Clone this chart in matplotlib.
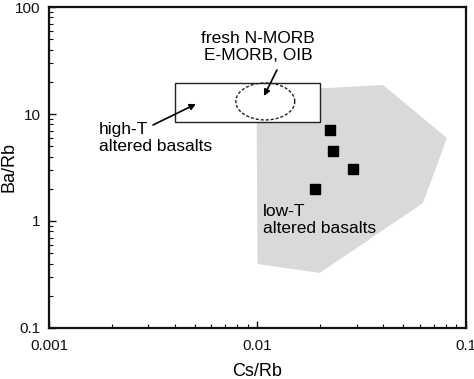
import numpy as np
import matplotlib
matplotlib.use("Agg")
import matplotlib.pyplot as plt
from matplotlib.patches import Polygon, Rectangle
from matplotlib.ticker import LogLocator, NullFormatter, FixedLocator, FixedFormatter

plt.rcParams['font.family'] = ['Liberation Sans', 'DejaVu Sans']

# Data
sample_cs_rb = [0.0223, 0.0230, 0.0287, 0.0189]
sample_ba_rb = [7.1, 4.5, 3.06, 2.0]

lowT_cs_rb = [0.0099, 0.0400, 0.0811, 0.0622, 0.0199, 0.0100]
lowT_ba_rb = [16.1, 18.7, 5.97, 1.47, 0.327, 0.396]

highT_cs_rb = [0.004, 0.02]
highT_ba_rb = [8.4, 19.5]

morb_center = [0.0109, 13.1]   # Cs/Rb, Ba/Rb
morb_halfwidth_dec = [0.1415, 0.173]  # in decades

xticks = [0.001, 0.01, 0.1]
xticklabels = ["0.001", "0.01", "0.1"]
yticks = [0.1, 1, 10, 100]
yticklabels = ["0.1", "1", "10", "100"]

fig = plt.figure(figsize=(4.74, 3.79), dpi=100)
ax = fig.add_axes([0.1034, 0.1346, 0.983 - 0.1034, 0.9815 - 0.1346])
ax.set_xscale('log')
ax.set_yscale('log')
ax.set_xlim(0.001, 0.1)
ax.set_ylim(0.1, 100)

# low-T field
poly = Polygon(np.column_stack([lowT_cs_rb, lowT_ba_rb]), closed=True,
               facecolor='#d9d9d9', edgecolor='none', zorder=1)
ax.add_patch(poly)

# high-T box
rect = Rectangle((highT_cs_rb[0], highT_ba_rb[0]), highT_cs_rb[1] - highT_cs_rb[0],
                 highT_ba_rb[1] - highT_ba_rb[0], facecolor='white', edgecolor='#222222',
                 linewidth=1.0, zorder=2)
ax.add_patch(rect)

# MORB ellipse (in log space)
t = np.linspace(0, 2 * np.pi, 200)
ex = 10 ** (np.log10(morb_center[0]) + morb_halfwidth_dec[0] * np.cos(t))
ey = 10 ** (np.log10(morb_center[1]) + morb_halfwidth_dec[1] * np.sin(t))
ax.plot(ex, ey, color='#222222', linestyle=(0, (2.2, 1.4)), linewidth=1.0, zorder=3)

# samples
ax.plot(sample_cs_rb, sample_ba_rb, linestyle='none', marker='s', markersize=7,
        color='black', zorder=4)

fs = 12.5
def frac(px, py):
    x0, x1, y0, y1 = 49, 466, 7, 328
    return ((px - x0) / (x1 - x0), (y1 - py) / (y1 - y0))

ax.text(*frac(99, 138), "high-T\naltered basalts", transform=ax.transAxes,
        ha='left', va='center', fontsize=fs, linespacing=1.2, zorder=5)
ax.annotate("", xy=frac(196, 104), xycoords='axes fraction',
            xytext=frac(153, 125), textcoords='axes fraction',
            arrowprops=dict(arrowstyle='-|>', color='black', lw=1.2,
                            mutation_scale=9, shrinkA=0, shrinkB=0), zorder=5)

ax.text(*frac(258, 47), "fresh N-MORB\nE-MORB, OIB", transform=ax.transAxes,
        ha='center', va='center', fontsize=fs, linespacing=1.2, zorder=5)
ax.annotate("", xy=frac(264, 96), xycoords='axes fraction',
            xytext=frac(277, 70), textcoords='axes fraction',
            arrowprops=dict(arrowstyle='-|>', color='black', lw=1.2,
                            mutation_scale=9, shrinkA=0, shrinkB=0), zorder=5)

ax.text(*frac(263, 220), "low-T\naltered basalts", transform=ax.transAxes,
        ha='left', va='center', fontsize=fs, linespacing=1.2, zorder=5)

for side in ['left', 'bottom', 'top', 'right']:
    ax.spines[side].set_linewidth(1.6)
    ax.spines[side].set_color('#111111')

ax.xaxis.set_major_locator(FixedLocator(xticks))
ax.xaxis.set_major_formatter(FixedFormatter(xticklabels))
ax.yaxis.set_major_locator(FixedLocator(yticks))
ax.yaxis.set_major_formatter(FixedFormatter(yticklabels))
ax.xaxis.set_minor_locator(LogLocator(base=10, subs=np.arange(2, 10)))
ax.yaxis.set_minor_locator(LogLocator(base=10, subs=np.arange(2, 10)))
ax.xaxis.set_minor_formatter(NullFormatter())
ax.yaxis.set_minor_formatter(NullFormatter())
ax.tick_params(which='both', direction='in', top=False, right=False,
               labelsize=11, colors='#111111')
ax.tick_params(which='major', length=5, width=1.0)
ax.tick_params(which='minor', length=3, width=0.8)
ax.tick_params(axis='x', pad=8)
ax.tick_params(axis='y', pad=6)

ax.set_xlabel("Cs/Rb", fontsize=13, labelpad=7)
ax.set_ylabel("Ba/Rb", fontsize=13, va='center')
ax.yaxis.set_label_coords(-0.095, 0.5)

fig.savefig("out.png", dpi=100)
